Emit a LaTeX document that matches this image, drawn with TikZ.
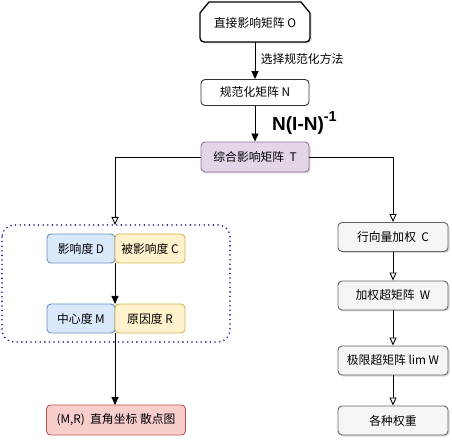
\documentclass[tikz,border=0pt]{standalone}
\usepackage{fontspec}
\setmainfont{Noto Sans CJK SC}
\newfontfamily\latinbold{Liberation Sans}
\usetikzlibrary{arrows.meta,shadows}
\definecolor{bluef}{HTML}{DAE8FC}\definecolor{blued}{HTML}{6C8EBF}
\definecolor{yelf}{HTML}{FFF2CC}\definecolor{yeld}{HTML}{D6B656}
\definecolor{redf}{HTML}{F8CECC}\definecolor{redd}{HTML}{B85450}
\definecolor{purf}{HTML}{E1D5E7}\definecolor{purd}{HTML}{9673A6}
\definecolor{grayf}{HTML}{F5F5F5}\definecolor{grayd}{HTML}{666666}
\definecolor{navy}{HTML}{1F1F8A}
\begin{document}
\begin{tikzpicture}[x=1pt,y=-1pt,
  every node/.style={font=\fontsize{11.8}{13}\selectfont},
  box/.style={rectangle,rounded corners=4pt,draw,line width=0.9pt,inner sep=0pt,minimum height=29pt},
  shad/.style={drop shadow={opacity=0.3,shadow xshift=1.5pt,shadow yshift=-1.5pt}},
  wbox/.style={box,fill=white,draw=black!80,minimum width=108pt},
  gbox/.style={box,shad,fill=grayf,draw=grayd,minimum width=110pt},
  conn/.style={draw=black,line width=0.9pt},
  openarr/.style={-{Triangle[open,length=8pt,width=7pt]}},
  fillarr/.style={-{Triangle[length=8pt,width=7pt]}}
]
\useasboundingbox (0,0) rectangle (452,443);
% top chamfered box
\draw[line width=1.3pt,fill=white,shad] (200,13) -- (209,2) -- (301,2) -- (310,13)
  [rounded corners=4pt] -- (310,42) -- (200,42) [sharp corners] -- cycle;
\node (O) at (255,23) {直接影响矩阵 O};
\coordinate (Ob) at (255,42);
\node[wbox,minimum height=26pt] (N) at (255,92.5) {规范化矩阵 N};
\node[box,shad,fill=purf,draw=purd,minimum width=108pt,minimum height=30pt] (T) at (255,157) {综合影响矩阵\ \ T};
\draw[conn,fillarr] (Ob) -- node[right=2pt,pos=0.45] (lab1) {选择规范化方法} (N.north);
\draw[conn,fillarr] (N.south) -- (T.north);
\node[anchor=base west,inner sep=0pt] (formula) at (272,131) {\latinbold\fontsize{19}{20}\selectfont\bfseries N(I-N)\raisebox{9.5pt}{\fontsize{14.5}{15}\selectfont -1}};
% dotted group
\draw[navy,line width=1.8pt,line cap=round,dash pattern=on 0pt off 4.6pt,rounded corners=12pt] (2,225) rectangle (230,342);
\coordinate (grpTop) at (115,225);
\node[box,fill=bluef,draw=blued,minimum width=68pt] (D) at (81,248.5) {影响度 D};
\node[box,fill=yelf,draw=yeld,minimum width=70pt] (C) at (150,248.5) {被影响度 C};
\node[box,fill=bluef,draw=blued,minimum width=68pt] (M) at (81,318.5) {中心度 M};
\node[box,fill=yelf,draw=yeld,minimum width=70pt] (R) at (150,318.5) {原因度 R};
\coordinate (DCb) at (115,263);
\coordinate (MRt) at (115,304);
\coordinate (MRb) at (115,333);
\node[box,fill=redf,draw=redd,minimum width=139pt,minimum height=30pt] (MR) at (116,420) {(M,R)\ \ 直角坐标 散点图};
\coordinate (MRin) at (115,405);
% right column
\node[gbox] (W1) at (393,237) {行向量加权\ \ C};
\node[gbox] (W2) at (393,295.5) {加权超矩阵\ \ W};
\node[gbox] (W3) at (393,360.5) {极限超矩阵 lim W};
\node[gbox] (W4) at (393,420.5) {各种权重};
% connectors
\draw[conn,openarr] (T.west) -| (grpTop);
\draw[conn,openarr] (T.east) -| (W1.north);
\draw[conn,fillarr] (DCb) -- (MRt);
\draw[conn,fillarr] (MRb) -- (MRin);
\draw[conn,openarr] (W1.south) -- (W2.north);
\draw[conn,openarr] (W2.south) -- (W3.north);
\draw[conn,openarr] (W3.south) -- (W4.north);
\end{tikzpicture}
\end{document}
